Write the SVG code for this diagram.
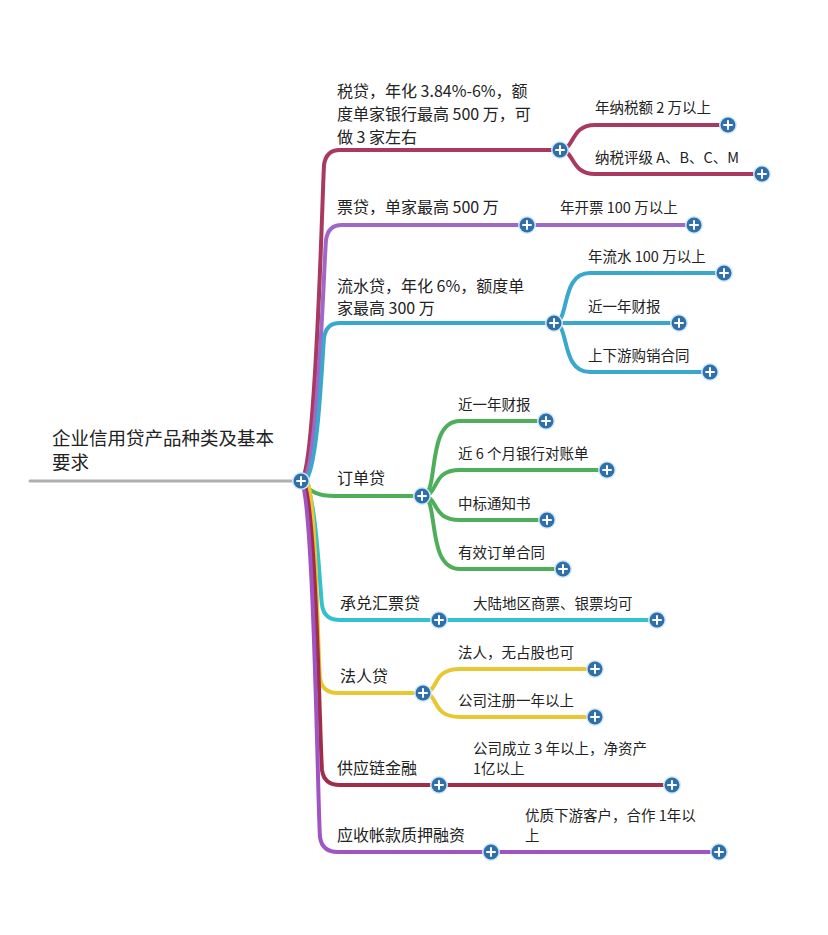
<svg xmlns="http://www.w3.org/2000/svg" xmlns:xlink="http://www.w3.org/1999/xlink" width="828" height="935" viewBox="0 0 828 935">
<style>
text{font-family:"Noto Sans CJK SC","Liberation Sans",sans-serif;fill:#222;font-size:14.5px}
.b{font-size:16px}
.r{font-size:18.5px}
path{fill:none;stroke-width:4;stroke-linecap:round}
.c1{stroke:#a83a60}.c2{stroke:#a066c8}.c3{stroke:#3aa8cc}.c4{stroke:#4fae5a}.c5{stroke:#33c0d0}.c6{stroke:#e8c832}.c7{stroke:#a02e48}.c8{stroke:#a054c4}
</style>
<defs>
<g id="p"><circle r="9" fill="#cfe8f8"/><circle r="7.5" fill="#2f70aa"/><path d="M-4,0H4M0,-4V4" style="stroke:#fff;stroke-width:2"/></g>
</defs>
<rect width="828" height="935" fill="#fff"/>
<g id="connectors">
<path d="M30,481H301" style="stroke:#b0b0b0;stroke-width:3"/>
<path class="c1" d="M301,481 C316,470 322,200 324,165 Q326,150 340,150 H560"/>
<path class="c1" d="M560,150 C575,150 570,125 595,125 H728"/>
<path class="c1" d="M560,150 C575,150 570,174 595,174 H762"/>
<path class="c2" d="M303,481 C318,470 324,260 326,240 Q328,225 342,225 H527"/>
<path class="c2" d="M527,225 H694"/>
<path class="c3" d="M305,481 C318,470 322,360 324,338 Q326,323 340,323 H554"/>
<path class="c3" d="M554,323 C570,323 560,273 590,273 H724"/>
<path class="c3" d="M554,323 H679"/>
<path class="c3" d="M554,323 C570,323 560,372 590,372 H710"/>
<path class="c4" d="M301,481 C310,492 318,496 335,496 H422"/>
<path class="c4" d="M422,496 C440,496 425,421 460,421 H546"/>
<path class="c4" d="M422,496 C440,496 430,470 460,470 H607"/>
<path class="c4" d="M422,496 C440,496 430,520 460,520 H547"/>
<path class="c4" d="M422,496 C440,496 425,569 460,569 H563"/>
<path class="c5" d="M305,481 C316,495 320,590 322,605 Q324,620 340,620 H439"/>
<path class="c5" d="M439,620 H657"/>
<path class="c6" d="M307,481 C316,495 318,660 320,678 Q322,693 338,693 H423"/>
<path class="c6" d="M423,693 C440,693 430,669 460,669 H595"/>
<path class="c6" d="M423,693 C440,693 430,717 460,717 H595"/>
<path class="c7" d="M303,481 C316,495 320,750 322,770 Q324,785 340,785 H439"/>
<path class="c7" d="M439,785 H672"/>
<path class="c8" d="M301,481 C314,495 318,820 320,837 Q322,852 338,852 H491"/>
<path class="c8" d="M491,852 H719"/>
</g>
<g id="root"><text class="r" x="52" y="445">企业信用贷产品种类及基本</text><text class="r" x="52" y="469">要求</text><use href="#p" x="301" y="481"/></g>
<g id="n1"><text class="b" x="337" y="97">税贷，年化 3.84%-6%，额</text><text class="b" x="337" y="120">度单家银行最高 500 万，可</text><text class="b" x="337" y="143">做 3 家左右</text><use href="#p" x="560" y="150"/></g>
<g id="n1a"><text x="595" y="113">年纳税额 2 万以上</text><use href="#p" x="728" y="125"/></g>
<g id="n1b"><text x="595" y="163">纳税评级 A、B、C、M</text><use href="#p" x="762" y="174"/></g>
<g id="n2"><text class="b" x="337" y="213">票贷，单家最高 500 万</text><use href="#p" x="527" y="225"/></g>
<g id="n2a"><text x="560" y="213">年开票 100 万以上</text><use href="#p" x="694" y="225"/></g>
<g id="n3"><text class="b" x="337" y="292">流水贷，年化 6%，额度单</text><text class="b" x="337" y="314">家最高 300 万</text><use href="#p" x="554" y="323"/></g>
<g id="n3a"><text x="588" y="262">年流水 100 万以上</text><use href="#p" x="724" y="273"/></g>
<g id="n3b"><text x="588" y="312">近一年财报</text><use href="#p" x="679" y="323"/></g>
<g id="n3c"><text x="588" y="361">上下游购销合同</text><use href="#p" x="710" y="372"/></g>
<g id="n4"><text class="b" x="337" y="484">订单贷</text><use href="#p" x="422" y="496"/></g>
<g id="n4a"><text x="458" y="410">近一年财报</text><use href="#p" x="546" y="421"/></g>
<g id="n4b"><text x="458" y="459">近 6 个月银行对账单</text><use href="#p" x="607" y="470"/></g>
<g id="n4c"><text x="458" y="509">中标通知书</text><use href="#p" x="547" y="520"/></g>
<g id="n4d"><text x="458" y="558">有效订单合同</text><use href="#p" x="563" y="569"/></g>
<g id="n5"><text class="b" x="340" y="609">承兑汇票贷</text><use href="#p" x="439" y="620"/></g>
<g id="n5a"><text x="473" y="609">大陆地区商票、银票均可</text><use href="#p" x="657" y="620"/></g>
<g id="n6"><text class="b" x="340" y="682">法人贷</text><use href="#p" x="423" y="693"/></g>
<g id="n6a"><text x="458" y="658">法人，无占股也可</text><use href="#p" x="595" y="669"/></g>
<g id="n6b"><text x="458" y="706">公司注册一年以上</text><use href="#p" x="595" y="717"/></g>
<g id="n7"><text class="b" x="337" y="774">供应链金融</text><use href="#p" x="439" y="785"/></g>
<g id="n7a"><text x="473" y="754">公司成立 3 年以上，净资产</text><text x="473" y="774">1亿以上</text><use href="#p" x="672" y="785"/></g>
<g id="n8"><text class="b" x="337" y="841">应收帐款质押融资</text><use href="#p" x="491" y="852"/></g>
<g id="n8a"><text x="525" y="821">优质下游客户，合作 1年以</text><text x="525" y="841">上</text><use href="#p" x="719" y="852"/></g>
</svg>
